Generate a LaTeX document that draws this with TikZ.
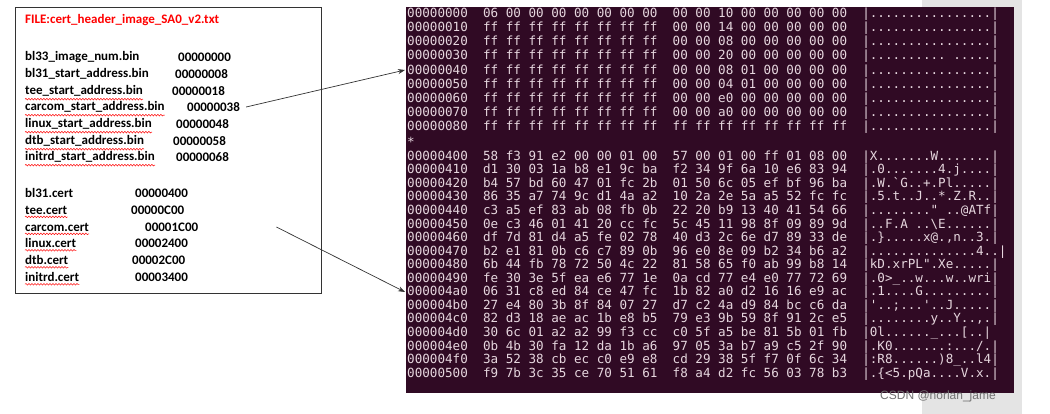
\documentclass[tikz,border=0pt]{standalone}
\usepackage{fontspec}
\setmainfont{Carlito}
\newfontfamily\termfont{DejaVu Sans Mono}
\newfontfamily\wmfont{Liberation Sans}
\usetikzlibrary{decorations.pathmorphing,arrows.meta}
\definecolor{termbg}{HTML}{300A24}
\definecolor{termfg}{HTML}{E6D6DE}
\definecolor{titlered}{HTML}{FF0000}
\definecolor{panelgrey}{HTML}{E4E4E4}
\tikzset{
  lbl/.style={anchor=west,inner sep=0pt,font=\fontsize{13}{15}\selectfont\bfseries},
  hex/.style={anchor=west,inner sep=0pt,text=termfg,font=\termfont\fontsize{12.6}{14}\selectfont},
  wavy/.style={draw=red,line width=0.5pt,decorate,decoration={snake,amplitude=0.8pt,segment length=3pt}},
  conn/.style={draw=black!80,line width=0.7pt,-{Stealth[length=7pt,width=5pt]}}
}
\begin{document}
\begin{tikzpicture}[x=1pt,y=-1pt]
\useasboundingbox (0,0) rectangle (1050,414);
\fill[white] (0,0) rectangle (1050,414);
\fill[panelgrey] (922,0) rectangle (1022,414);
% left box
\draw[line width=0.8pt,black!80] (15,7) rectangle (321,293);
\node[lbl,text=titlered] (title) at (25,20) {FILE:cert\_header\_image\_SA0\_v2.txt};
\foreach \n/\a/\ax/\y/\u [count=\i] in {
  bl33\_image\_num.bin/00000000/178/57/0,
  bl31\_start\_address.bin/00000008/175/74/0,
  tee\_start\_address.bin/00000018/172/91/1,
  carcom\_start\_address.bin/00000038/187/107/1,
  linux\_start\_address.bin/00000048/176/124/1,
  dtb\_start\_address.bin/00000058/173/141/1,
  initrd\_start\_address.bin/00000068/176/157/1,
  bl31.cert/00000400/135/193/0,
  tee.cert/00000C00/131/210/1,
  carcom.cert/00001C00/145/227/1,
  linux.cert/00002400/135/243/1,
  dtb.cert/00002C00/132/260/1,
  initrd.cert/00003400/135/277/1}{
  \node[lbl] (n\i) at (25,\y) {\n};
  \node[lbl] (a\i) at (\ax,\y) {\a};
  \ifnum\u=1 \path[wavy] ([yshift=-2.5pt]n\i.south west) -- ([yshift=-2.5pt]n\i.south east);\fi
}
% terminal
\fill[termbg] (406,7) rectangle (1014,393);
\node[hex] (h0) at (407,14.0) {00000000~~06 00 00 00 00 00 00 00~~00 00 10 00 00 00 00 00~~|................|};
\node[hex] (h1) at (407,28.2) {00000010~~ff ff ff ff ff ff ff ff~~00 00 14 00 00 00 00 00~~|................|};
\node[hex] (h2) at (407,42.4) {00000020~~ff ff ff ff ff ff ff ff~~00 00 08 00 00 00 00 00~~|................|};
\node[hex] (h3) at (407,56.6) {00000030~~ff ff ff ff ff ff ff ff~~00 00 20 00 00 00 00 00~~|..........~.....|};
\node[hex] (h4) at (407,70.8) {00000040~~ff ff ff ff ff ff ff ff~~00 00 08 01 00 00 00 00~~|................|};
\node[hex] (h5) at (407,85.0) {00000050~~ff ff ff ff ff ff ff ff~~00 00 04 01 00 00 00 00~~|................|};
\node[hex] (h6) at (407,99.2) {00000060~~ff ff ff ff ff ff ff ff~~00 00 e0 00 00 00 00 00~~|................|};
\node[hex] (h7) at (407,113.4) {00000070~~ff ff ff ff ff ff ff ff~~00 00 a0 00 00 00 00 00~~|................|};
\node[hex] (h8) at (407,127.6) {00000080~~ff ff ff ff ff ff ff ff~~ff ff ff ff ff ff ff ff~~|................|};
\node[hex] (star) at (407,142) {*};
\node[hex] (g0) at (407,157.0) {00000400~~58 f3 91 e2 00 00 01 00~~57 00 01 00 ff 01 08 00~~|X.......W.......|};
\node[hex] (g1) at (407,170.55) {00000410~~d1 30 03 1a b8 e1 9c ba~~f2 34 9f 6a 10 e6 83 94~~|.0.......4.j....|};
\node[hex] (g2) at (407,184.1) {00000420~~b4 57 bd 60 47 01 fc 2b~~01 50 6c 05 ef bf 96 ba~~|.W.`G..+.Pl.....|};
\node[hex] (g3) at (407,197.65) {00000430~~86 35 a7 74 9c d1 4a a2~~10 2a 2e 5a a5 52 fc fc~~|.5.t..J..*.Z.R..|};
\node[hex] (g4) at (407,211.2) {00000440~~c3 a5 ef 83 ab 08 fb 0b~~22 20 b9 13 40 41 54 66~~|........"~..@ATf|};
\node[hex] (g5) at (407,224.75) {00000450~~0e c3 46 01 41 20 cc fc~~5c 45 11 98 8f 09 89 9d~~|..F.A~..\textbackslash E......|};
\node[hex] (g6) at (407,238.3) {00000460~~df 7d 81 d4 a5 fe 02 78~~40 d3 2c 6e d7 89 33 de~~|.\}.....x@.,n..3.|};
\node[hex] (g7) at (407,251.85) {00000470~~b2 e1 81 0b c6 c7 89 0b~~96 e0 8e 09 b2 34 b6 a2~~|..............4..|};
\node[hex] (g8) at (407,265.4) {00000480~~6b 44 fb 78 72 50 4c 22~~81 58 65 f0 ab 99 b8 14~~|kD.xrPL".Xe.....|};
\node[hex] (g9) at (407,278.95) {00000490~~fe 30 3e 5f ea e6 77 1e~~0a cd 77 e4 e0 77 72 69~~|.0>\_..w...w..wri|};
\node[hex] (g10) at (407,292.5) {000004a0~~06 31 c8 ed 84 ce 47 fc~~1b 82 a0 d2 16 16 e9 ac~~|.1....G.........|};
\node[hex] (g11) at (407,306.05) {000004b0~~27 e4 80 3b 8f 84 07 27~~d7 c2 4a d9 84 bc c6 da~~|'..;...'..J.....|};
\node[hex] (g12) at (407,319.6) {000004c0~~82 d3 18 ae ac 1b e8 b5~~79 e3 9b 59 8f 91 2c e5~~|........y..Y..,.|};
\node[hex] (g13) at (407,333.15) {000004d0~~30 6c 01 a2 a2 99 f3 cc~~c0 5f a5 be 81 5b 01 fb~~|0l......\_...[..|};
\node[hex] (g14) at (407,346.7) {000004e0~~0b 4b 30 fa 12 da 1b a6~~97 05 3a b7 a9 c5 2f 90~~|.K0.......:.../.|};
\node[hex] (g15) at (407,360.25) {000004f0~~3a 52 38 cb ec c0 e9 e8~~cd 29 38 5f f7 0f 6c 34~~|:R8......)8\_..l4|};
\node[hex] (g16) at (407,373.8) {00000500~~f9 7b 3c 35 ce 70 51 61~~f8 a4 d2 fc 56 03 78 b3~~|.\{<5.pQa....V.x.|};
% connectors
\coordinate (t1) at (405,70);
\coordinate (t2) at (405,292);
\draw[conn] ([xshift=6pt]a4.east) -- (t1);
\draw[conn] ([xshift=78pt]a10.east) -- (t2);
\node[anchor=west,inner sep=0pt,text=black!55,font=\wmfont\fontsize{12}{14}\selectfont] (wm) at (880,396) {CSDN @norlan\_jame};
\end{tikzpicture}
\end{document}
